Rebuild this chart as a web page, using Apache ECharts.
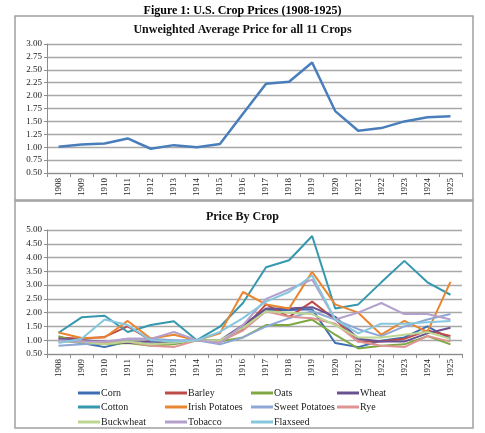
<!DOCTYPE html>
<html>
<head>
<meta charset="UTF-8">
<title>U.S. Crop Prices</title>
<script src="https://cdn.jsdelivr.net/npm/echarts@6/dist/echarts.min.js"></script>
<style>
    html, body { margin: 0; padding: 0; background: #fff; }
    #main { width: 485px; height: 433px; }
</style>
</head>
<body>
<div id="main"></div>
<script type="text/javascript">
    // years on the x axis
    var years = ['1908','1909','1910','1911','1912','1913','1914','1915','1916',
                 '1917','1918','1919','1920','1921','1922','1923','1924','1925'];

    // unweighted average of all 11 crops
    var average = [1.01,1.05,1.07,1.17,0.97,1.04,1.00,1.06,1.65,2.23,2.27,2.64,1.70,1.32,1.37,1.50,1.58,1.60];

    // price by crop (1914 = 1.00)
    var corn          = [1.00,0.90,0.75,0.95,0.85,0.90,1.00,0.95,1.50,2.10,2.10,2.12,0.90,0.75,0.98,1.10,1.50,1.05];
    var barley        = [1.10,1.05,1.12,1.50,1.00,0.95,1.00,0.95,1.40,2.30,1.85,2.40,1.75,0.95,0.95,1.05,1.35,1.15];
    var oats          = [1.15,0.90,0.85,0.90,0.80,0.85,1.00,0.95,1.10,1.55,1.55,1.75,1.20,0.70,0.80,0.85,1.15,0.85];
    var wheat         = [1.05,1.00,0.95,0.90,0.95,0.90,1.00,1.00,1.55,2.15,2.15,2.20,1.85,1.05,0.95,0.95,1.25,1.45];
    var cotton        = [1.27,1.83,1.89,1.30,1.55,1.69,1.00,1.49,2.35,3.65,3.90,4.78,2.15,2.30,3.10,3.88,3.10,2.65];
    var irishPotatoes = [1.28,1.08,1.10,1.70,1.06,1.20,1.00,1.25,2.75,2.30,2.15,3.48,2.30,2.00,1.20,1.70,1.30,3.12];
    var sweetPotatoes = [0.80,0.85,0.90,1.05,1.05,1.00,1.00,0.85,1.10,1.50,1.80,2.05,1.75,1.40,1.15,1.50,1.75,1.95];
    var rye           = [0.95,0.95,0.90,0.95,0.80,0.75,1.00,0.95,1.35,2.05,1.85,1.80,1.60,0.95,0.80,0.75,1.15,0.95];
    var buckwheat     = [0.95,0.95,0.85,0.95,0.85,0.90,1.00,1.00,1.45,2.05,2.00,1.95,1.55,1.10,1.10,1.20,1.30,1.05];
    var tobacco       = [1.00,0.95,0.95,1.05,1.05,1.30,1.00,0.90,1.55,2.50,2.85,3.20,1.75,2.00,2.35,1.95,1.95,1.75];
    var flaxseed      = [0.90,1.05,1.75,1.55,1.00,0.95,1.00,1.30,1.80,2.40,2.75,3.35,1.75,1.25,1.60,1.60,1.65,1.70];

    var crops = [
        {name: 'Corn',           data: corn,          color: '#3C6EB4'},
        {name: 'Barley',         data: barley,        color: '#BE4B48'},
        {name: 'Oats',           data: oats,          color: '#7FA843'},
        {name: 'Wheat',          data: wheat,         color: '#6A5190'},
        {name: 'Cotton',         data: cotton,        color: '#3598AE'},
        {name: 'Irish Potatoes', data: irishPotatoes, color: '#EA8530'},
        {name: 'Sweet Potatoes', data: sweetPotatoes, color: '#8EA8D6'},
        {name: 'Rye',            data: rye,           color: '#DE9492'},
        {name: 'Buckwheat',      data: buckwheat,     color: '#BCD691'},
        {name: 'Tobacco',        data: tobacco,       color: '#B3A0CC'},
        {name: 'Flaxseed',       data: flaxseed,      color: '#86C7DE'}
    ];

    var serif = '"Liberation Serif", "DejaVu Serif", serif';
    var gridColor = '#A8A8A8';

    function xAxisFor(gridIndex) {
        return {
            type: 'category',
            gridIndex: gridIndex,
            data: years,
            boundaryGap: true,
            axisLine: {lineStyle: {color: '#8C8C8C', width: 1}},
            axisTick: {show: true, length: 4, lineStyle: {color: '#8C8C8C'}},
            axisLabel: {rotate: 90, color: '#222', fontFamily: serif, fontSize: 9, margin: 5}
        };
    }

    function yAxisFor(gridIndex, min, max, step) {
        return {
            type: 'value',
            gridIndex: gridIndex,
            min: min, max: max, interval: step,
            axisLine: {show: true, lineStyle: {color: '#8C8C8C'}},
            axisTick: {show: true, length: 3, lineStyle: {color: '#8C8C8C'}},
            axisLabel: {color: '#222', fontFamily: serif, fontSize: 9, margin: 5,
                formatter: function (v) { return v.toFixed(2); }},
            splitLine: {lineStyle: {color: gridColor, width: 1.3}}
        };
    }

    // one legend per item, 4 columns x 3 rows like the excel legend
    var colLeft = [73, 160, 246, 332];
    var rowTop = [383, 397, 412];
    var legends = crops.map(function (c, i) {
        return {
            left: colLeft[i % 4], top: rowTop[Math.floor(i / 4)],
            itemWidth: 22, itemHeight: 3,
            icon: 'rect',
            data: [c.name],
            textStyle: {fontFamily: serif, fontSize: 10, color: '#222', padding: [0, 0, 0, -4]},
            selectedMode: false
        };
    });

    var series = [{
        name: 'Average',
        type: 'line',
        xAxisIndex: 0, yAxisIndex: 0,
        data: average,
        symbol: 'none',
        lineStyle: {color: '#4A7EBB', width: 2.5},
        itemStyle: {color: '#4A7EBB'}
    }];
    crops.forEach(function (c) {
        series.push({
            name: c.name,
            type: 'line',
            xAxisIndex: 1, yAxisIndex: 1,
            data: c.data,
            symbol: 'none',
            lineStyle: {color: c.color, width: 2},
            itemStyle: {color: c.color}
        });
    });

    var chart = echarts.init(document.getElementById('main'));
    chart.setOption({
        animation: false,
        backgroundColor: '#fff',
        title: [
            {text: 'Figure 1: U.S. Crop Prices (1908-1925)', left: 'center', top: 0,
             textStyle: {fontFamily: serif, fontSize: 12, fontWeight: 'bold', color: '#000'}},
            {text: 'Unweighted Average Price for all 11 Crops', left: 'center', top: 19,
             textStyle: {fontFamily: serif, fontSize: 12, fontWeight: 'bold', color: '#111'}},
            {text: 'Price By Crop', left: 'center', top: 206,
             textStyle: {fontFamily: serif, fontSize: 12, fontWeight: 'bold', color: '#111'}}
        ],
        graphic: [
            {type: 'rect', shape: {x: 15, y: 16, width: 458, height: 184},
             style: {fill: 'none', stroke: '#A0A0A0', lineWidth: 1.5}, silent: true},
            {type: 'rect', shape: {x: 15, y: 201, width: 458, height: 227},
             style: {fill: 'none', stroke: '#A0A0A0', lineWidth: 1.5}, silent: true}
        ],
        grid: [
            {left: 47, right: 23, top: 44, height: 129},
            {left: 47, right: 23, top: 230, height: 124}
        ],
        xAxis: [xAxisFor(0), xAxisFor(1)],
        yAxis: [yAxisFor(0, 0.5, 3, 0.25), yAxisFor(1, 0.5, 5, 0.5)],
        legend: legends,
        series: series
    });
</script>
</body>
</html>
